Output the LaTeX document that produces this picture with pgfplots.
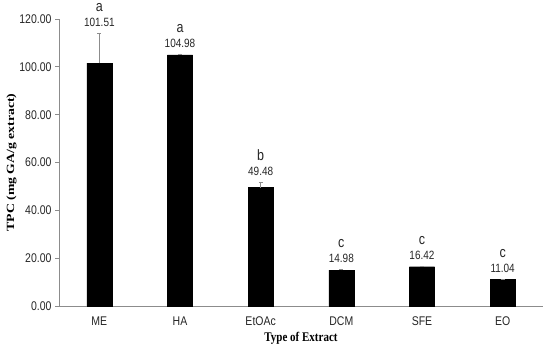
\documentclass[border=0pt]{standalone}
\usepackage{pgfplots}
\pgfplotsset{compat=1.18}
\usepackage{fontspec}
\setmainfont{Liberation Sans}
\newfontfamily\timesfont{Liberation Serif}
\definecolor{axgray}{HTML}{8C8C8C}
\definecolor{txt}{HTML}{262626}
\newcommand{\vs}[1]{\scalebox{1}[1.2]{#1}}
\begin{document}
\begin{tikzpicture}
\begin{axis}[
  scale only axis,
  width=484pt, height=287pt,
  xmin=-0.5, xmax=5.5,
  ymin=0, ymax=120,
  axis x line*=bottom, axis y line*=left,
  axis line style={axgray, line width=0.8pt},
  xtick={0,1,2,3,4,5},
  xticklabels={\vs{ME},\vs{HA},\vs{EtOAc},\vs{DCM},\vs{SFE},\vs{EO}},
  major x tick style={draw=none},
  ytick={0,20,40,60,80,100,120},
  yticklabel={\vs{\pgfmathprintnumber[fixed,fixed zerofill,precision=2,assume math mode=true]{\tick}}},
  ytick style={axgray, line width=0.8pt},
  tick align=outside,
  major tick length=4pt,
  ticklabel style={font=\fontsize{10.5}{12}\selectfont, text=txt},
  xticklabel style={yshift=-3pt},
  xlabel={\scalebox{1}[1.2]{\timesfont\bfseries Type of Extract}},
  ylabel={\scalebox{1.25}[1]{\timesfont\bfseries TPC (mg GA/g extract)}},
  label style={font=\fontsize{11}{12}\selectfont, text=black},
  ylabel style={yshift=-4pt},
  xlabel style={yshift=0pt},
  clip=false,
]
\addplot[ybar, bar width=0.31, fill=black, draw=black,
  error bars/.cd, y dir=plus, y explicit,
  error bar style={axgray, line width=0.8pt}, error mark options={rotate=90, mark size=2pt, axgray}]
  coordinates {
  (0,101.51) +- (0,12.5)
  (1,104.98) +- (0,0.5)
  (2,49.48) +- (0,2.2)
  (3,14.98) +- (0,0.3)
  (4,16.42) +- (0,0.25)
  (5,11.04) +- (0,0.3)
  };
\addplot[draw=none, mark=none, point meta=explicit symbolic,
  nodes near coords={\vs{\pgfplotspointmeta}},
  every node near coord/.append style={anchor=south, yshift=3pt, font=\fontsize{10}{11}\selectfont, text=txt}]
  coordinates {
  (0,114.0) [101.51]
  (1,105.5) [104.98]
  (2,51.7) [49.48]
  (3,15.3) [14.98]
  (4,16.7) [16.42]
  (5,11.35) [11.04]
  };
\addplot[draw=none, mark=none, point meta=explicit symbolic,
  nodes near coords={\vs{\pgfplotspointmeta}},
  every node near coord/.append style={anchor=south, yshift=18pt, font=\fontsize{12.5}{13}\selectfont, text=txt}]
  coordinates {
  (0,114.0) [a]
  (1,105.5) [a]
  (2,51.7) [b]
  (3,15.3) [c]
  (4,16.7) [c]
  (5,11.35) [c]
  };
\end{axis}
\pgfresetboundingbox
\path (current axis.south west) ++(-59pt,-40pt) coordinate (bl);
\path (current axis.north east) ++(7pt,19pt) coordinate (tr);
\path[use as bounding box] (bl) rectangle (tr);
\end{tikzpicture}
\end{document}
